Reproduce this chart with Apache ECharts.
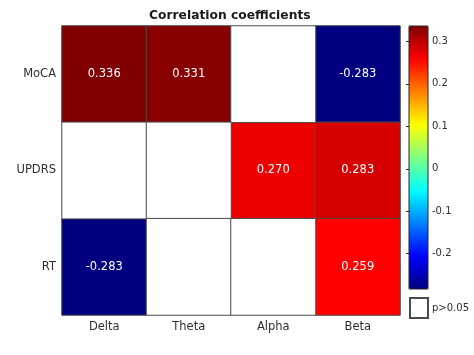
<!DOCTYPE html>
<html>
<head>
<meta charset="utf-8">
<script src="https://cdn.jsdelivr.net/npm/echarts@6/dist/echarts.min.js"></script>
<style>html,body{margin:0;padding:0;background:#fff;}#c{width:474px;height:355px;}</style>
</head>
<body>
<div id="c"></div>
<script>
const xCats = ['Delta', 'Theta', 'Alpha', 'Beta'];
const yCats = ['MoCA', 'UPDRS', 'RT'];
// null = not significant (p>0.05)
const moca  = [0.336, 0.331, null, -0.283];
const updrs = [null, null, 0.270, 0.283];
const rt    = [-0.283, null, null, 0.259];
const rows = [moca, updrs, rt];
const cbMin = -0.283, cbMax = 0.336;
const cbTicks = [-0.2, -0.1, 0, 0.1, 0.2, 0.3];
const jet = ['#000080','#0000FF','#0080FF','#00FFFF','#80FF80','#FFFF00','#FF8000','#FF0000','#800000'];

const sig = [], nonsig = [];
rows.forEach((r, yi) => r.forEach((v, xi) => {
  if (v === null) nonsig.push([xi, yi, 0]);
  else sig.push([xi, yi, v]);
}));

const font = 'DejaVu Sans';
const chart = echarts.init(document.getElementById('c'), null, {renderer: 'canvas'});
chart.setOption({
  animation: false,
  title: {
    text: 'Correlation coefficients',
    left: 149, top: 10, padding: 0,
    textStyle: {fontFamily: font, fontSize: 12.3, fontWeight: 'bold', color: '#1a1a1a'}
  },
  grid: [
    {left: 62, top: 26, width: 338, height: 289, containLabel: false},
    {left: 409, top: 26, width: 19, height: 263, show: true, borderColor: '#262626', borderWidth: 1, backgroundColor: 'transparent', z: 10}
  ],
  xAxis: [
    {type: 'category', data: xCats, gridIndex: 0, axisLine: {show: false}, axisTick: {show: false},
     axisLabel: {fontFamily: font, fontSize: 11.5, color: '#2e2e2e', margin: 6}, splitLine: {show: false}},
    {type: 'value', gridIndex: 1, show: false, min: 0, max: 1}
  ],
  yAxis: [
    {type: 'category', data: yCats, inverse: true, gridIndex: 0, axisLine: {show: false}, axisTick: {show: false},
     axisLabel: {fontFamily: font, fontSize: 11.5, color: '#2e2e2e', margin: 6}, splitLine: {show: false}},
    {type: 'value', gridIndex: 1, position: 'right', min: cbMin, max: cbMax,
     axisLine: {show: false},
     axisTick: {show: true, inside: true, length: 3, lineStyle: {color: '#262626'}, customValues: cbTicks},
     axisLabel: {fontFamily: font, fontSize: 10, color: '#2e2e2e', margin: 4, customValues: cbTicks,
       formatter: v => (Math.abs(v) < 1e-9 ? '0' : String(Math.round(v * 10) / 10))},
     splitLine: {show: false}}
  ],
  visualMap: {
    type: 'continuous', seriesIndex: 0, min: cbMin, max: cbMax,
    calculable: false, realtime: false, text: null, showLabel: false,
    left: 409, top: 26, itemWidth: 19, itemHeight: 263, padding: 0,
    inRange: {color: jet}, outOfRange: {color: '#000080'}, hoverLink: false
  },
  legend: {
    data: ['p>0.05'], left: 409, top: 297, itemWidth: 18, itemHeight: 20, icon: 'rect', itemGap: 4,
    padding: 0, textStyle: {fontFamily: font, fontSize: 10, color: '#2e2e2e', padding: [0,0,0,-1]}, selectedMode: false
  },
  series: [
    {type: 'heatmap', name: 'sig', xAxisIndex: 0, yAxisIndex: 0, data: sig,
     itemStyle: {borderColor: '#4a4a4a', borderWidth: 1},
     label: {show: true, fontFamily: font, fontSize: 11.5, color: '#ffffff', formatter: p => p.value[2].toFixed(3)},
     emphasis: {disabled: true}},
    {type: 'heatmap', name: 'p>0.05', xAxisIndex: 0, yAxisIndex: 0, data: nonsig,
     itemStyle: {color: '#ffffff', borderColor: '#4a4a4a', borderWidth: 1},
     label: {show: false}, emphasis: {disabled: true}}
  ]
});
</script>
</body>
</html>
